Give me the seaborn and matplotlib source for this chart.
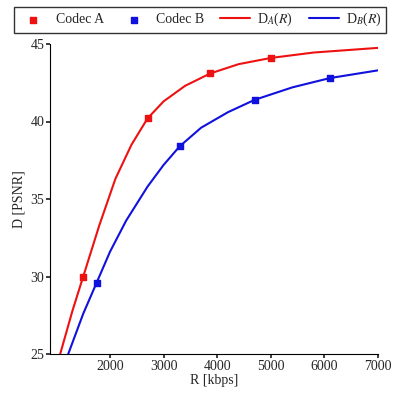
import matplotlib
matplotlib.use("Agg")
import matplotlib.pyplot as plt
import seaborn as sns

sns.set_theme(style="white")
plt.rcParams['font.family'] = ['Liberation Serif', 'DejaVu Serif']
plt.rcParams['mathtext.fontset'] = 'stix'

ra = [1500, 2700, 3870, 5000]
da = [30.0, 40.2, 43.1, 44.1]
rb = [1750, 3300, 4700, 6100]
db = [29.6, 38.4, 41.4, 42.8]
ca_r = [1070, 1300, 1500, 1800, 2100, 2400, 2700, 3000, 3400, 3870, 4400, 5000, 5800, 7000]
ca_d = [25, 27.8, 30, 33.3, 36.3, 38.5, 40.2, 41.3, 42.3, 43.1, 43.7, 44.1, 44.45, 44.75]
cb_r = [1220, 1500, 1750, 2000, 2300, 2700, 3000, 3300, 3700, 4200, 4700, 5400, 6100, 7000]
cb_d = [25, 27.6, 29.6, 31.6, 33.6, 35.8, 37.2, 38.4, 39.6, 40.6, 41.4, 42.2, 42.8, 43.3]

fig = plt.figure(figsize=(4, 4), dpi=100)
ax = fig.add_axes([0.125, 0.115, 0.82, 0.775])
sns.lineplot(x=ca_r, y=ca_d, ax=ax, color='#ee1111', lw=1.5, label='D$_A$($R$)', sort=False)
sns.lineplot(x=cb_r, y=cb_d, ax=ax, color='#1111dd', lw=1.5, label='D$_B$($R$)', sort=False)
ax.scatter(ra, da, marker='s', s=22, color='#ee1111', label='Codec A', zorder=3)
ax.scatter(rb, db, marker='s', s=22, color='#1111dd', label='Codec B', zorder=3)
ax.set_xlim(880, 7000)
ax.set_ylim(25, 45)
ax.set_xticks([2000, 3000, 4000, 5000, 6000, 7000])
ax.set_yticks([25, 30, 35, 40, 45])
ax.set_xlabel('R [kbps]', fontsize=10, labelpad=1)
ax.set_ylabel('D [PSNR]', fontsize=10)
ax.tick_params(labelsize=10, length=3, direction='out', left=True, bottom=True, pad=1)
for s in ['top', 'right']:
    ax.spines[s].set_visible(False)
for s in ['left', 'bottom']:
    ax.spines[s].set_color('black')
    ax.spines[s].set_linewidth(0.8)
h, l = ax.get_legend_handles_labels()
order = [2, 3, 0, 1]
fig.legend([h[i] for i in order], [l[i] for i in order], loc='upper center', ncol=4,
           bbox_to_anchor=(0.5, 1.0), fontsize=10, frameon=True, fancybox=False,
           edgecolor='black', handlelength=2.2, columnspacing=1.1, handletextpad=0.5,
           borderpad=0.3)
ax.get_legend().remove()
fig.savefig('out.png', dpi=100)
